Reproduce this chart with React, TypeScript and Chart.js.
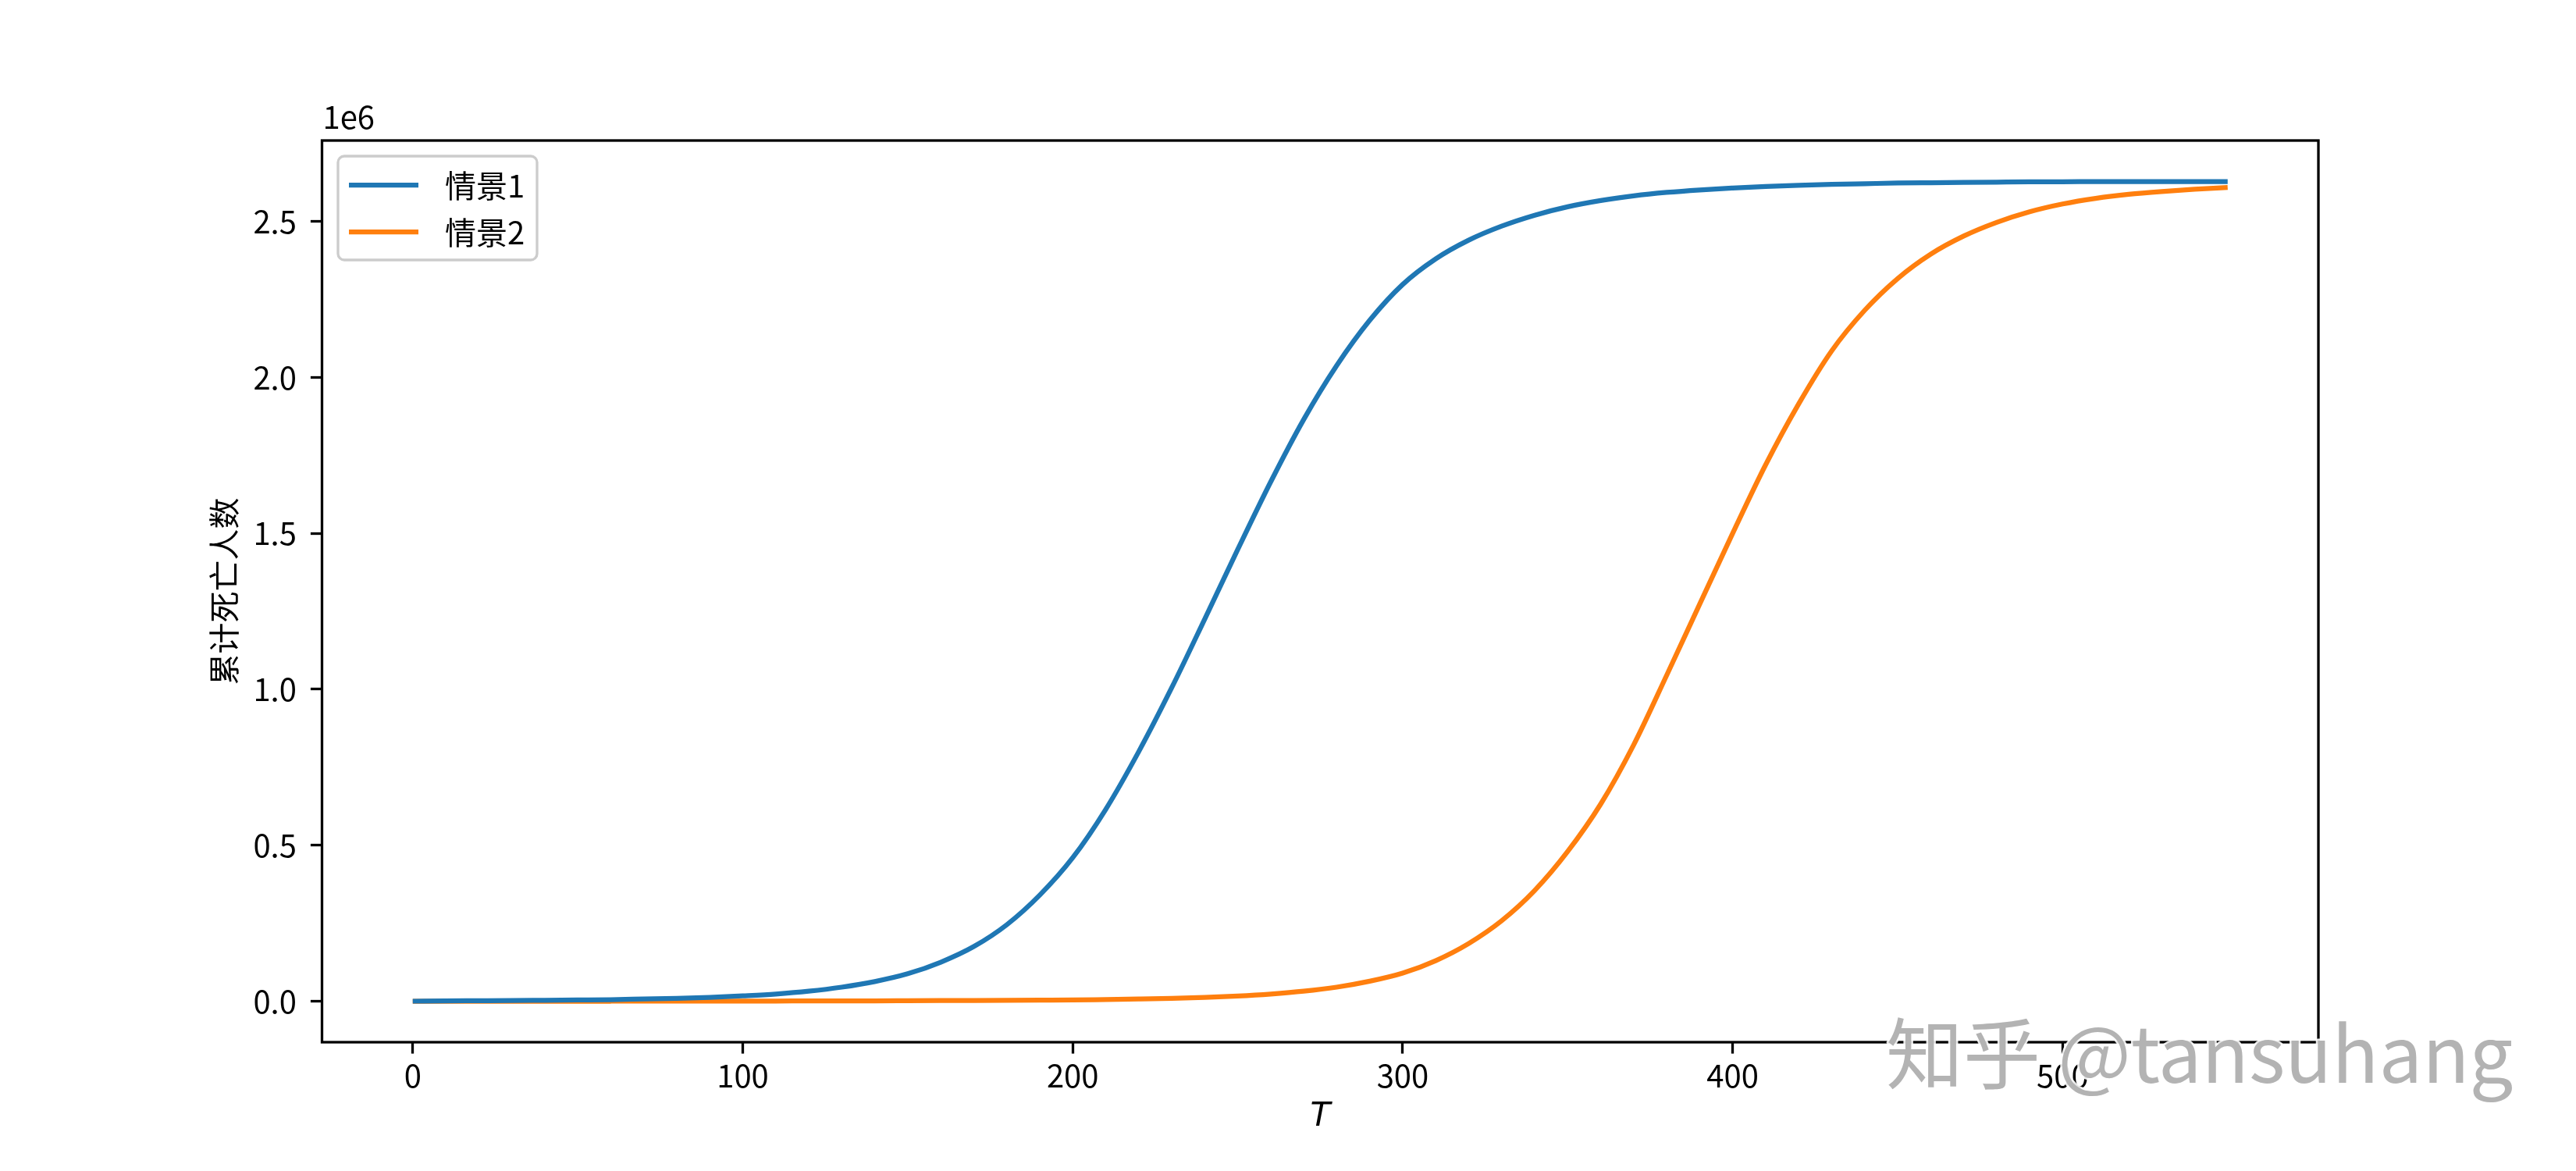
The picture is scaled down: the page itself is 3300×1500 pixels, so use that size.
import { useEffect, useRef } from "react";
import { Chart, registerables } from "chart.js";
Chart.register(...registerables);

// T (days)
const tDays = [
  0, 10, 20, 30, 40, 50, 60, 70, 80, 90, 100, 110, 120, 130, 140, 150, 160,
  170, 180, 190, 200, 210, 220, 230, 240, 250, 260, 270, 280, 290, 300, 310,
  320, 330, 340, 350, 360, 370, 380, 390, 400, 410, 420, 430, 440, 450, 460,
  470, 480, 490, 500, 510, 520, 530, 540, 550,
];

// cumulative deaths, in units of 1e6
const scenario1 = [
  0.0, 0.001, 0.0015, 0.002, 0.003, 0.004, 0.005, 0.007, 0.009, 0.012, 0.017,
  0.023, 0.032, 0.045, 0.063, 0.088, 0.125, 0.175, 0.245, 0.34, 0.46, 0.615,
  0.8, 1.005, 1.225, 1.448, 1.665, 1.865, 2.038, 2.183, 2.298, 2.38, 2.44,
  2.485, 2.52, 2.547, 2.567, 2.582, 2.593, 2.601, 2.607, 2.612, 2.616, 2.619,
  2.621, 2.623, 2.624, 2.625, 2.626, 2.627, 2.627, 2.628, 2.628, 2.628, 2.628,
  2.628,
];

const scenario2 = [
  0.0, 0.0, 0.0, 0.0, 0.0, 0.0, 0.0, 0.0005, 0.0005, 0.0005, 0.0005, 0.0005,
  0.001, 0.001, 0.001, 0.0015, 0.002, 0.0025, 0.003, 0.0035, 0.004, 0.0055,
  0.007, 0.009, 0.012, 0.0165, 0.023, 0.032, 0.045, 0.064, 0.09, 0.13, 0.185,
  0.258, 0.355, 0.48, 0.632, 0.822, 1.045, 1.273, 1.5, 1.72, 1.915, 2.085,
  2.215, 2.317, 2.395, 2.453, 2.497, 2.531, 2.556, 2.574, 2.587, 2.596, 2.603,
  2.609,
];

const seriesNames = ["情景1", "情景2"];
const seriesColors = ["#1f77b4", "#ff7f0e"];
const xTicks = [0, 100, 200, 300, 400, 500];
const yTicks = [0, 0.5, 1.0, 1.5, 2.0, 2.5];
const xTitle = "T";
const yTitle = "累计死亡人数";
const offsetText = "1e6";
const watermark = "知乎 @tansuhang";

const CJK = "'Noto Sans CJK SC', 'Noto Sans', sans-serif";
const LW = 3.3; // axes line width

// matplotlib-style 5% margins
const xMin = Math.min(...tDays);
const xMax = Math.max(...tDays);
const allY = [...scenario1, ...scenario2];
const yLo = Math.min(...allY);
const yHi = Math.max(...allY);
const xPad = (xMax - xMin) * 0.05;
const yPad = (yHi - yLo) * 0.05;

const decorPlugin = {
  id: "decor",
  afterDatasetsDraw(chart: any) {
    const { ctx, chartArea: a } = chart;
    ctx.save();
    // frame
    ctx.strokeStyle = "#000";
    ctx.lineWidth = LW;
    ctx.strokeRect(a.left, a.top, a.right - a.left, a.bottom - a.top);

    // legend box
    const bx = a.left + 20.5;
    const by = a.top + 20;
    const bw = 255;
    const bh = 133;
    ctx.beginPath();
    ctx.roundRect(bx, by, bw, bh, 8);
    ctx.fillStyle = "rgba(255,255,255,0.8)";
    ctx.fill();
    ctx.strokeStyle = "#cccccc";
    ctx.lineWidth = LW;
    ctx.stroke();

    ctx.font = `40px ${CJK}`;
    ctx.textBaseline = "middle";
    ctx.textAlign = "left";
    seriesNames.forEach((name, i) => {
      const y = by + 37 + i * 60;
      ctx.strokeStyle = seriesColors[i];
      ctx.lineWidth = 6.25;
      ctx.beginPath();
      ctx.moveTo(bx + 14, y);
      ctx.lineTo(bx + 103, y);
      ctx.stroke();
      ctx.fillStyle = "#000";
      ctx.fillText(name, bx + 137, y + 1);
    });
    ctx.restore();
  },
  afterDraw(chart: any) {
    const { ctx, chartArea: a } = chart;
    ctx.save();
    ctx.fillStyle = "#000";

    // offset text
    ctx.font = `40px ${CJK}`;
    ctx.textAlign = "left";
    ctx.textBaseline = "alphabetic";
    ctx.fillText(offsetText, a.left + 1, a.top - 15);

    // y title
    ctx.save();
    ctx.translate(287, (a.top + a.bottom) / 2);
    ctx.rotate(-Math.PI / 2);
    ctx.textAlign = "center";
    ctx.textBaseline = "middle";
    ctx.fillText(yTitle, 0, 0);
    ctx.restore();

    // x title
    ctx.font = "italic 42px 'DejaVu Sans'";
    ctx.textAlign = "center";
    ctx.textBaseline = "middle";
    ctx.fillText(xTitle, (a.left + a.right) / 2, 1431);

    // watermark
    ctx.font = `99px ${CJK}`;
    ctx.textAlign = "left";
    ctx.textBaseline = "alphabetic";
    ctx.lineJoin = "round";
    ctx.strokeStyle = "rgba(255,255,255,0.9)";
    ctx.lineWidth = 5;
    ctx.strokeText(watermark, 2416, 1387);
    ctx.fillStyle = "#b3b3b3";
    ctx.fillText(watermark, 2416, 1387);
    ctx.restore();
  },
};

const App = () => {
  const canvasRef = useRef<HTMLCanvasElement>(null);
  const chartRef = useRef<Chart | null>(null);

  useEffect(() => {
    if (chartRef.current) chartRef.current.destroy();
    const ctx = canvasRef.current?.getContext("2d");
    if (!ctx) return;

    const tickFont = { family: CJK, size: 40 };
    const grid = {
      display: true,
      drawOnChartArea: false,
      drawTicks: true,
      tickLength: 14.6,
      tickWidth: LW,
      tickColor: "#000",
      color: "#000",
    };

    chartRef.current = new Chart(ctx, {
      type: "line",
      data: {
        datasets: [scenario1, scenario2].map((ys, i) => ({
          label: seriesNames[i],
          data: tDays.map((t, j) => ({ x: t, y: ys[j] })),
          borderColor: seriesColors[i],
          backgroundColor: seriesColors[i],
          borderWidth: 6.25,
          pointRadius: 0,
          cubicInterpolationMode: "monotone" as const,
          fill: false,
        })),
      },
      options: {
        responsive: false,
        animation: false,
        devicePixelRatio: 1,
        layout: { padding: { left: 0, right: 330, top: 180, bottom: 0 } },
        plugins: {
          legend: { display: false },
          tooltip: { enabled: false },
        },
        scales: {
          x: {
            type: "linear",
            min: xMin - xPad,
            max: xMax + xPad,
            grid,
            border: { display: false },
            afterBuildTicks: (s: any) => {
              s.ticks = xTicks.map((v) => ({ value: v }));
            },
            afterFit: (s: any) => {
              s.height = 165;
            },
            ticks: {
              autoSkip: false,
              maxRotation: 0,
              padding: 4,
              color: "#000",
              font: tickFont,
              callback: (v: any) => String(v),
            },
          },
          y: {
            type: "linear",
            min: yLo - yPad,
            max: yHi + yPad,
            grid,
            border: { display: false },
            afterBuildTicks: (s: any) => {
              s.ticks = yTicks.map((v) => ({ value: v }));
            },
            afterFit: (s: any) => {
              s.width = 412.5;
            },
            ticks: {
              autoSkip: false,
              padding: 18,
              color: "#000",
              font: tickFont,
              callback: (v: any) => Number(v).toFixed(1),
            },
          },
        },
      },
      plugins: [decorPlugin],
    });

    return () => {
      if (chartRef.current) {
        chartRef.current.destroy();
        chartRef.current = null;
      }
    };
  }, []);

  return (
    <div
      style={{
        position: "absolute",
        left: 0,
        top: 0,
        width: 3300,
        height: 1500,
        background: "#fff",
      }}
    >
      <canvas ref={canvasRef} width={3300} height={1500} />
    </div>
  );
};

export default App;
